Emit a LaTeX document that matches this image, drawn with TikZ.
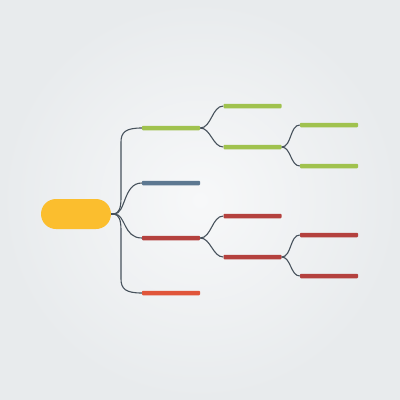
\documentclass[tikz,border=0pt]{standalone}
\usetikzlibrary{calc}
\definecolor{bgin}{HTML}{F7F8F9}
\definecolor{bgout}{HTML}{E8EBED}
\definecolor{cyel}{HTML}{FBBE2E}
\definecolor{cgreen}{HTML}{A0C24E}
\definecolor{cblue}{HTML}{5D7891}
\definecolor{cred}{HTML}{B4413E}
\definecolor{corange}{HTML}{E0553A}
\definecolor{cline}{HTML}{47525C}
\begin{document}
\begin{tikzpicture}[x=1pt,y=-1pt,
  bar/.style={rectangle,minimum width=58pt,minimum height=4.5pt,inner sep=0pt,rounded corners=0.8pt},
  link/.style={draw=cline,line width=1.1pt},
  branch/.style={link,out=0,in=180,looseness=0.9}]
\shade[inner color=bgin,outer color=bgout] (0,0) rectangle (400,400);
\useasboundingbox (0,0) rectangle (400,400);
% root
\node[fill=cyel,rounded corners=15pt,minimum width=70pt,minimum height=30pt,inner sep=0pt] (root) at (76,214) {};
% level 1
\node[bar,fill=cgreen] (g1) at (171,128) {};
\node[bar,fill=cblue] (b1) at (171,183) {};
\node[bar,fill=cred] (r1) at (171,238) {};
\node[bar,fill=corange] (o1) at (171,293) {};
% green level 2
\node[bar,fill=cgreen] (g2a) at (252.5,106) {};
\node[bar,fill=cgreen] (g2b) at (252.5,147) {};
\node[bar,fill=cgreen] (g3a) at (329,125) {};
\node[bar,fill=cgreen] (g3b) at (329,166) {};
% red level 2
\node[bar,fill=cred] (r2a) at (252.5,216) {};
\node[bar,fill=cred] (r2b) at (252.5,257) {};
\node[bar,fill=cred] (r3a) at (329,235) {};
\node[bar,fill=cred] (r3b) at (329,276) {};
% root fork
\coordinate (rf) at ($(root.east)+(3,0)$);
\draw[link] (root.east) -- (rf);
\draw[link] (rf) .. controls (119,213) and (121,208) .. (121,198) -- (121,142) .. controls (121,132) and (126,128) .. (g1.west);
\draw[link] (rf) .. controls (126,214) and (123,183) .. (b1.west);
\draw[link] (rf) .. controls (126,214) and (123,238) .. (r1.west);
\draw[link] (rf) .. controls (119,215) and (121,220) .. (121,230) -- (121,279) .. controls (121,289) and (126,293) .. (o1.west);
% branches
\draw[branch] (g1.east) to (g2a.west);
\draw[branch] (g1.east) to (g2b.west);
\draw[branch] (g2b.east) to (g3a.west);
\draw[branch] (g2b.east) to (g3b.west);
\draw[branch] (r1.east) to (r2a.west);
\draw[branch] (r1.east) to (r2b.west);
\draw[branch] (r2b.east) to (r3a.west);
\draw[branch] (r2b.east) to (r3b.west);
\end{tikzpicture}
\end{document}
